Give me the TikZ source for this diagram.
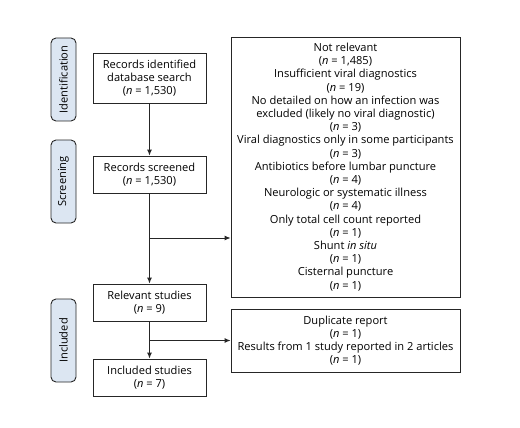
\documentclass[tikz,border=0pt]{standalone}
\usepackage{fontspec}
\setmainfont{Open Sans}
\usetikzlibrary{arrows.meta}
\definecolor{lblue}{RGB}{220,230,242}
\begin{document}
\begin{tikzpicture}[x=1pt,y=-1pt,
  every node/.style={font=\fontsize{11.1}{13.2}\selectfont},
  box/.style={draw=black!85,line width=0.9pt,align=center,inner sep=1pt},
  phase/.style={draw=black!85,line width=0.9pt,fill=lblue,rounded corners=5pt,rotate=90,minimum width=83,minimum height=25,inner sep=0pt},
  arr/.style={-{Latex[length=6pt,width=5pt]},line width=0.9pt,black!85}]
\useasboundingbox (0,0) rectangle (520,428);
\node[phase] (pid) at (63.5,79.5) {Identification};
\node[phase] (psc) at (63.5,181.5) {Screening};
\node[phase] (pin) at (63.5,340.5) {Included};
\node[box,minimum width=113,minimum height=50] (rid) at (149.5,78) {Records identified\\database search\\(\textit{n} = 1,530)};
\node[box,minimum width=113,minimum height=37] (rsc) at (149.5,174.5) {Records screened\\(\textit{n} = 1,530)};
\node[box,minimum width=113,minimum height=37] (rel) at (149.5,302.5) {Relevant studies\\(\textit{n} = 9)};
\node[box,minimum width=113,minimum height=37] (inc) at (149.5,377.5) {Included studies\\(\textit{n} = 7)};
\node[box,minimum width=229,minimum height=260] (exc) at (345.5,167) {Not relevant\\(\textit{n} = 1,485)\\Insufficient viral diagnostics\\(\textit{n} = 19)\\No detailed on how an infection was\\excluded (likely no viral diagnostic)\\(\textit{n} = 3)\\Viral diagnostics only in some participants\\(\textit{n} = 3)\\Antibiotics before lumbar puncture\\(\textit{n} = 4)\\Neurologic or systematic illness\\(\textit{n} = 4)\\Only total cell count reported\\(\textit{n} = 1)\\Shunt \textit{in situ}\\(\textit{n} = 1)\\Cisternal puncture\\(\textit{n} = 1)};
\node[box,minimum width=229,minimum height=63] (dup) at (345.5,340.5) {Duplicate report\\(\textit{n} = 1)\\Results from 1 study reported in 2 articles\\(\textit{n} = 1)};
\coordinate (b1) at (149.5,238);
\coordinate (b2) at (149.5,340.5);
\draw[arr] (rid) -- (rsc);
\draw[arr] (rsc) -- (rel);
\draw[arr] (b1) -- (b1 -| exc.west);
\draw[arr] (rel) -- (inc);
\draw[arr] (b2) -- (dup.west);
\end{tikzpicture}
\end{document}
